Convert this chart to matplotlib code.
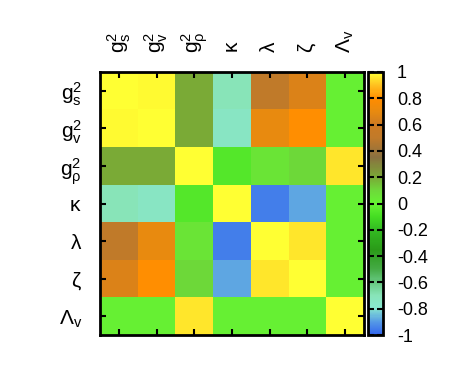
import numpy as np
import matplotlib
matplotlib.use("Agg")
import matplotlib.pyplot as plt
from matplotlib.colors import LinearSegmentedColormap

plt.rcParams['font.family'] = ['Liberation Sans', 'DejaVu Sans']
plt.rcParams['mathtext.fontset'] = 'custom'
plt.rcParams['mathtext.rm'] = 'Liberation Sans'
plt.rcParams['mathtext.it'] = 'Liberation Sans'

labels = [r'$\mathrm{g_s^2}$', r'$\mathrm{g_v^2}$', r'$\mathrm{g_\rho^2}$',
          r'$\mathrm{\kappa}$', r'$\mathrm{\lambda}$', r'$\mathrm{\zeta}$', r'$\mathrm{\Lambda_v}$']

# correlation matrix
row_gs = [1.0, 0.99, 0.2, -0.7, 0.5, 0.65, 0.0]
row_gv = [0.99, 1.0, 0.2, -0.75, 0.7, 0.8, 0.0]
row_grho = [0.2, 0.2, 1.0, -0.05, 0.05, 0.1, 0.96]
row_kappa = [-0.7, -0.75, -0.05, 1.0, -0.95, -0.88, 0.0]
row_lambda = [0.5, 0.7, 0.05, -0.95, 1.0, 0.96, 0.0]
row_zeta = [0.65, 0.8, 0.1, -0.88, 0.96, 1.0, 0.0]
row_lv = [0.0, 0.0, 0.96, 0.0, 0.0, 0.0, 1.0]
corr = np.array([row_gs, row_gv, row_grho, row_kappa, row_lambda, row_zeta, row_lv])

cb_ticks = [1, 0.8, 0.6, 0.4, 0.2, 0, -0.2, -0.4, -0.6, -0.8, -1]
cb_ticklabels = ['1', '0.8', '0.6', '0.4', '0.2', '0', '-0.2', '-0.4', '-0.6', '-0.8', '-1']

# palette roughly like the gnuplot one in the picture
anchors = [(-1.0, '#3366ee'), (-0.9, '#5599e6'), (-0.8, '#88e8d0'), (-0.7, '#88e4b8'),
           (-0.6, '#66c880'), (-0.5, '#44aa44'), (-0.35, '#2a9a18'), (-0.2, '#33bb22'),
           (-0.1, '#44dd22'), (0.0, '#66f233'), (0.1, '#6ed83a'), (0.2, '#7aaa36'),
           (0.35, '#8a7040'), (0.5, '#c07a2a'), (0.6, '#cc7a22'), (0.7, '#e88a10'),
           (0.8, '#ff8c00'), (0.9, '#ffc020'), (1.0, '#ffff33')]
cmap = LinearSegmentedColormap.from_list('gp', [((v + 1) / 2, c) for v, c in anchors])

fig = plt.figure(figsize=(4.74, 3.79), dpi=100)
ax = fig.add_axes([100 / 474, 1 - 335 / 379, 264 / 474, 263 / 379])
cax = fig.add_axes([368 / 474, 1 - 335 / 379, 15 / 474, 263 / 379])

im = ax.imshow(corr, cmap=cmap, vmin=-1, vmax=1, aspect='auto', interpolation='nearest')
n = len(labels)
ax.set_xticks(range(n))
ax.set_yticks(range(n))
ax.set_xticklabels(labels, rotation=90, fontsize=15)
ax.set_yticklabels(labels, fontsize=15)
ax.tick_params(direction='in', length=4, width=1.5, top=True, right=True,
               labeltop=True, labelbottom=False)
ax.tick_params(axis='x', pad=14)
ax.tick_params(axis='y', pad=13)
for s in ax.spines.values():
    s.set_linewidth(2)

cb = fig.colorbar(im, cax=cax)
cb.set_ticks(cb_ticks)
cb.set_ticklabels(cb_ticklabels)
cb.ax.tick_params(direction='in', length=4, width=1.5, left=True, labelsize=13, pad=10)
cb.outline.set_linewidth(2)

fig.savefig('out.png', dpi=100)
